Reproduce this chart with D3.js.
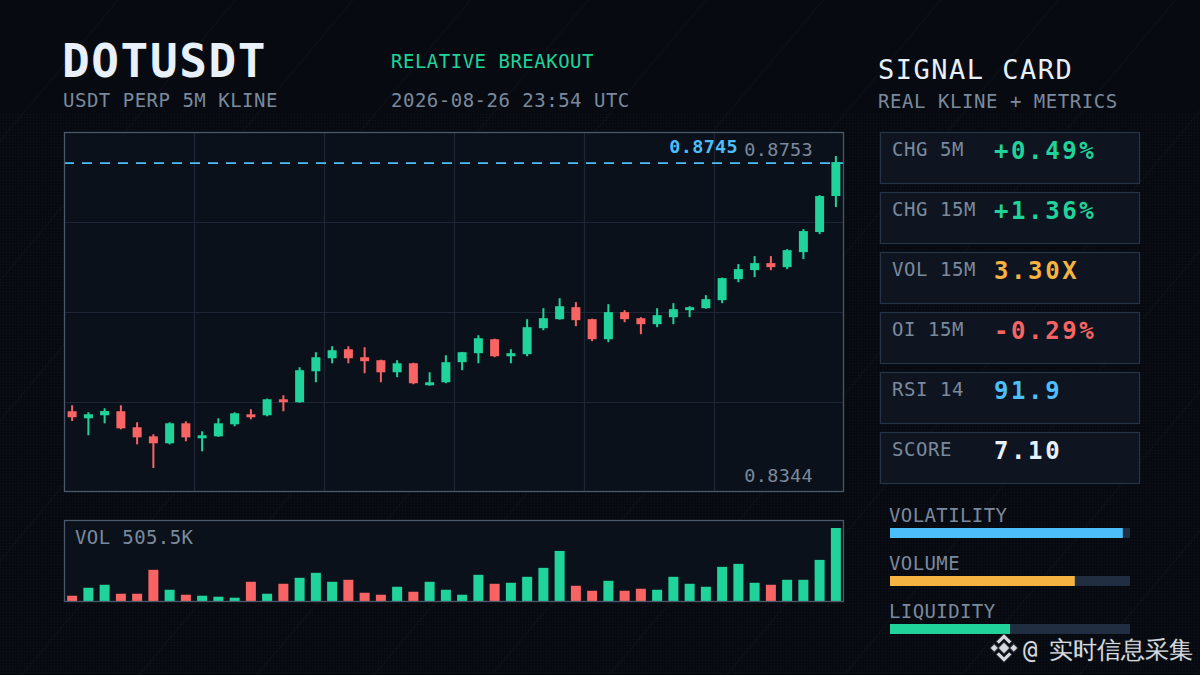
<!DOCTYPE html>
<html>
<head>
<meta charset="utf-8">
<script src="https://cdn.jsdelivr.net/npm/d3@7/dist/d3.min.js"></script>
<style>
html,body{margin:0;padding:0;background:#070b11;overflow:hidden;}
svg{display:block;}
text{font-family:"DejaVu Sans Mono",monospace;}
</style>
</head>
<body>
<svg id="chart" width="1200" height="675"></svg>
<script>
// ---------------- DATA ----------------
const symbol = "DOTUSDT";
const subtitle = "USDT PERP 5M KLINE";
const signalTag = "RELATIVE BREAKOUT";
const timestamp = "2026-08-26 23:54 UTC";

const candleOpen = [0.84184,0.84092,0.84131,0.84184,0.83974,0.83855,0.83764,0.84026,0.83829,0.83855,0.84013,0.84144,0.84131,0.84341,0.84302,0.84708,0.84879,0.84997,0.84892,0.84853,0.84695,0.84813,0.84525,0.84564,0.84827,0.84945,0.85128,0.84905,0.84932,0.85273,0.85391,0.85548,0.85391,0.85128,0.85483,0.85404,0.85325,0.85417,0.85509,0.85535,0.85640,0.85916,0.86034,0.86126,0.86073,0.86270,0.86533,0.87005];
const candleHigh = [0.84262,0.84171,0.84223,0.84262,0.84039,0.83882,0.84039,0.84052,0.83921,0.84092,0.84171,0.84210,0.84350,0.84393,0.84761,0.84958,0.85036,0.85036,0.85023,0.84860,0.84853,0.84820,0.84695,0.84918,0.84962,0.85181,0.85135,0.84997,0.85391,0.85535,0.85666,0.85614,0.85398,0.85588,0.85509,0.85417,0.85535,0.85601,0.85561,0.85706,0.85936,0.86113,0.86218,0.86218,0.86309,0.86572,0.87018,0.87530];
const candleLow = [0.84056,0.83869,0.84026,0.83947,0.83750,0.83440,0.83750,0.83790,0.83659,0.83848,0.83987,0.84079,0.84118,0.84184,0.84295,0.84564,0.84813,0.84813,0.84682,0.84564,0.84630,0.84538,0.84518,0.84551,0.84722,0.84813,0.84892,0.84813,0.84905,0.85246,0.85384,0.85299,0.85102,0.85089,0.85351,0.85194,0.85286,0.85325,0.85417,0.85528,0.85601,0.85876,0.85942,0.86034,0.86047,0.86178,0.86506,0.86861];
const candleClose = [0.84105,0.84144,0.84187,0.83960,0.83842,0.83764,0.84026,0.83842,0.83869,0.84026,0.84157,0.84105,0.84341,0.84302,0.84722,0.84892,0.84984,0.84879,0.84840,0.84695,0.84813,0.84551,0.84564,0.84827,0.84958,0.85141,0.84905,0.84945,0.85286,0.85404,0.85561,0.85378,0.85128,0.85483,0.85391,0.85325,0.85443,0.85522,0.85548,0.85653,0.85929,0.86047,0.86126,0.86073,0.86296,0.86546,0.87005,0.87450];
const volumeK = [36.6,91.7,112.4,50.3,50.3,215.9,77.9,43.4,36.6,29.7,22.8,133.1,50.3,119.3,160.7,195.2,133.1,146.9,57.2,43.4,98.6,64.1,133.1,77.9,43.4,181.4,119.3,126.2,167.6,229.6,346.9,105.5,71.0,140.0,71.0,84.8,77.9,167.6,119.3,98.6,236.5,257.2,126.2,112.4,146.9,146.9,284.8,505.5];

const cardTitle = "SIGNAL CARD";
const cardSubtitle = "REAL KLINE + METRICS";
const metricLabels = ["CHG 5M","CHG 15M","VOL 15M","OI 15M","RSI 14","SCORE"];
const metricValues = ["+0.49%","+1.36%","3.30X","-0.29%","91.9","7.10"];
const meterLabels = ["VOLATILITY","VOLUME","LIQUIDITY"];
const meterValues = [0.97,0.77,0.50];
const watermarkAt = "@";
const watermarkName = "实时信息采集";

// ---------------- STYLE ----------------
const C = {
  bg:"#070b11", panel:"#0b111a", border:"#4b586b", grid:"#1d2635",
  green:"#20d39a", red:"#f86363", blue:"#4cbffa", orange:"#f5b342",
  white:"#e8f0fa", gray:"#7b899d", card:"#0e1520", cardBorder:"#263345", track:"#212e42"
};
const metricColors = [C.green,C.green,C.orange,C.red,C.blue,C.white];
const meterColors = [C.blue,C.orange,C.green];

const svg = d3.select("#chart");
const defs = svg.append("defs");

// background patterns
const diag = defs.append("pattern").attr("id","diag").attr("patternUnits","userSpaceOnUse")
  .attr("width",90).attr("height",90).attr("patternTransform","rotate(40)");
diag.append("line").attr("x1",0).attr("y1",0).attr("x2",0).attr("y2",90)
  .attr("stroke","#8aa0c0").attr("stroke-opacity",0.07).attr("stroke-width",1);
const dots = defs.append("pattern").attr("id","dots").attr("patternUnits","userSpaceOnUse")
  .attr("width",3).attr("height",3);
dots.append("rect").attr("width",1).attr("height",1).attr("fill","#ffffff").attr("fill-opacity",0.035);

svg.append("rect").attr("width",1200).attr("height",675).attr("fill",C.bg);
svg.append("rect").attr("y",113).attr("width",1200).attr("height",562).attr("fill","url(#dots)");
svg.append("rect").attr("width",1200).attr("height",675).attr("fill","url(#diag)");

// ---------------- HEADER ----------------
svg.append("text").attr("x",62).attr("y",77).text(symbol)
  .attr("fill",C.white).attr("font-size",46).attr("font-weight","bold").attr("letter-spacing",1.6);
svg.append("text").attr("x",63).attr("y",107).text(subtitle)
  .attr("fill",C.gray).attr("font-size",19).attr("letter-spacing",0.5);
svg.append("text").attr("x",391).attr("y",68).text(signalTag)
  .attr("fill",C.green).attr("font-size",19).attr("letter-spacing",0.5);
svg.append("text").attr("x",391).attr("y",107).text(timestamp)
  .attr("fill",C.gray).attr("font-size",19).attr("letter-spacing",0.5);

// ---------------- PRICE PANEL ----------------
const P = {x0:64, x1:844, y0:132, y1:492, pad:24};
const n = candleOpen.length;
const idx = d3.range(n);

const x = d3.scaleBand().domain(idx).range([P.x0,P.x1]).padding(0);
const cx = i => x(i) + x.bandwidth()/2;
const lo = d3.min(candleLow), hi = d3.max(candleHigh);
const y = d3.scaleLinear().domain([lo,hi]).range([P.y1-P.pad, P.y0+P.pad]);

svg.append("rect").attr("x",P.x0+0.5).attr("y",P.y0+0.5).attr("width",P.x1-P.x0-1).attr("height",P.y1-P.y0-1)
  .attr("fill",C.panel);

const gridG = svg.append("g");
const gx = d3.scaleLinear().domain([0,6]).range([P.x0,P.x1]);
const gy = d3.scaleLinear().domain([0,4]).range([P.y0,P.y1]);
gridG.selectAll("line.v").data(d3.range(1,6)).join("line")
  .attr("x1",d=>Math.round(gx(d))+0.5).attr("x2",d=>Math.round(gx(d))+0.5)
  .attr("y1",P.y0).attr("y2",P.y1).attr("stroke",C.grid).attr("stroke-width",1.2);
gridG.selectAll("line.h").data(d3.range(1,4)).join("line")
  .attr("y1",d=>Math.round(gy(d))+0.5).attr("y2",d=>Math.round(gy(d))+0.5)
  .attr("x1",P.x0).attr("x2",P.x1).attr("stroke",C.grid).attr("stroke-width",1.2);

const fmt4 = d3.format(".4f");
const lastClose = candleClose[n-1];

// last price dashed line
svg.append("line").attr("x1",P.x0).attr("x2",P.x1)
  .attr("y1",y(lastClose)+1).attr("y2",y(lastClose)+1)
  .attr("stroke",C.blue).attr("stroke-width",1.8).attr("stroke-dasharray","10,8");

// candles
const cg = svg.append("g");
const bodyW = 9, wickW = 2;
cg.selectAll("rect.wick").data(idx).join("rect")
  .attr("x",i=>cx(i)-wickW/2).attr("width",wickW)
  .attr("y",i=>y(candleHigh[i])).attr("height",i=>Math.max(1,y(candleLow[i])-y(candleHigh[i])))
  .attr("fill",i=>candleClose[i]>=candleOpen[i]?C.green:C.red);
cg.selectAll("rect.body").data(idx).join("rect")
  .attr("x",i=>cx(i)-bodyW/2).attr("width",bodyW)
  .attr("y",i=>y(Math.max(candleOpen[i],candleClose[i])))
  .attr("height",i=>Math.max(2.5,Math.abs(y(candleOpen[i])-y(candleClose[i]))))
  .attr("fill",i=>candleClose[i]>=candleOpen[i]?C.green:C.red);

// price labels
svg.append("text").attr("x",738).attr("y",153).attr("text-anchor","end").text(fmt4(lastClose))
  .attr("fill",C.blue).attr("font-size",18.5).attr("font-weight","bold").attr("letter-spacing",0.3);
svg.append("text").attr("x",813).attr("y",156).attr("text-anchor","end").text(fmt4(hi))
  .attr("fill",C.gray).attr("font-size",18.5).attr("letter-spacing",0.3);
svg.append("text").attr("x",813).attr("y",482).attr("text-anchor","end").text(fmt4(lo))
  .attr("fill",C.gray).attr("font-size",18.5).attr("letter-spacing",0.3);

svg.append("rect").attr("x",P.x0+0.5).attr("y",P.y0+0.5).attr("width",P.x1-P.x0-1).attr("height",P.y1-P.y0-1)
  .attr("fill","none").attr("stroke",C.border).attr("stroke-width",1.3);

// ---------------- VOLUME PANEL ----------------
const V = {x0:64, x1:844, y0:520, y1:602};
const vy = d3.scaleLinear().domain([0,d3.max(volumeK)]).range([601,528]);
svg.append("rect").attr("x",V.x0+0.5).attr("y",V.y0+0.5).attr("width",V.x1-V.x0-1).attr("height",V.y1-V.y0-1)
  .attr("fill",C.panel);
svg.append("g").selectAll("rect").data(idx).join("rect")
  .attr("x",i=>cx(i)-5).attr("width",10)
  .attr("y",i=>vy(volumeK[i])).attr("height",i=>vy(0)-vy(volumeK[i]))
  .attr("fill",i=>candleClose[i]>=candleOpen[i]?C.green:C.red);
svg.append("rect").attr("x",V.x0+0.5).attr("y",V.y0+0.5).attr("width",V.x1-V.x0-1).attr("height",V.y1-V.y0-1)
  .attr("fill","none").attr("stroke",C.border).attr("stroke-width",1.3);
svg.append("text").attr("x",75).attr("y",544).text("VOL " + d3.format(".1f")(volumeK[n-1]) + "K")
  .attr("fill",C.gray).attr("font-size",19).attr("letter-spacing",0.4);

// ---------------- SIGNAL CARD ----------------
svg.append("text").attr("x",878).attr("y",79).text(cardTitle)
  .attr("fill",C.white).attr("font-size",27).attr("letter-spacing",1.5);
svg.append("text").attr("x",878).attr("y",108).text(cardSubtitle)
  .attr("fill",C.gray).attr("font-size",19).attr("letter-spacing",0.55);

const cardY = d3.scaleBand().domain(d3.range(metricLabels.length)).range([132,492]).paddingInner(0);
const cards = svg.append("g").selectAll("g").data(d3.range(metricLabels.length)).join("g")
  .attr("transform",i=>`translate(880,${cardY(i)})`);
cards.append("rect").attr("x",0.5).attr("y",0.5).attr("width",259).attr("height",51)
  .attr("fill",C.card).attr("stroke",C.cardBorder).attr("stroke-width",1.2);
cards.append("text").attr("x",12).attr("y",24).text(i=>metricLabels[i])
  .attr("fill",C.gray).attr("font-size",19).attr("letter-spacing",0.55);
cards.append("text").attr("x",114).attr("y",27).text(i=>metricValues[i])
  .attr("fill",i=>metricColors[i]).attr("font-size",24).attr("font-weight","bold").attr("letter-spacing",2.6);

// meters
const mx = d3.scaleLinear().domain([0,1]).range([890,1130]);
const meters = svg.append("g").selectAll("g").data(d3.range(meterLabels.length)).join("g")
  .attr("transform",i=>`translate(0,${i*48})`);
meters.append("text").attr("x",889).attr("y",522).text(i=>meterLabels[i])
  .attr("fill",C.gray).attr("font-size",19).attr("letter-spacing",0.4);
meters.append("rect").attr("x",mx(0)).attr("y",528).attr("width",mx(1)-mx(0)).attr("height",10).attr("fill",C.track);
meters.append("rect").attr("x",mx(0)).attr("y",528).attr("width",i=>mx(meterValues[i])-mx(0)).attr("height",10)
  .attr("fill",i=>meterColors[i]);

// ---------------- WATERMARK ----------------
const wm = svg.append("g").attr("transform","translate(1004,648) scale(1.3)");
const wmFill = "#d6dade", wmShadow = "#2a2f36";
function diamond(g, cxp, cyp, r, fill, stroke){
  g.append("rect").attr("x",-r).attr("y",-r).attr("width",2*r).attr("height",2*r)
   .attr("transform",`translate(${cxp},${cyp}) rotate(45)`)
   .attr("fill",fill).attr("stroke",stroke).attr("stroke-width",0.8);
}
diamond(wm,0,0,3.2,wmFill,wmShadow);
diamond(wm,-7.5,0,2.3,wmFill,wmShadow);
diamond(wm,7.5,0,2.3,wmFill,wmShadow);
wm.append("path").attr("d","M0,-11 L6,-5 L4,-3 L0,-7 L-4,-3 L-6,-5 Z").attr("fill",wmFill).attr("stroke",wmShadow).attr("stroke-width",0.7);
wm.append("path").attr("d","M0,11 L6,5 L4,3 L0,7 L-4,3 L-6,5 Z").attr("fill",wmFill).attr("stroke",wmShadow).attr("stroke-width",0.7);
const wmText = {"font-family":"'Noto Sans CJK SC',sans-serif", fill:wmFill, stroke:wmShadow, "stroke-width":0.8, "paint-order":"stroke"};
const t1 = svg.append("text").attr("x",1023).attr("y",658).attr("font-size",24).text(watermarkAt);
const t2 = svg.append("text").attr("x",1049).attr("y",658).attr("font-size",23.5).text(watermarkName);
[t1,t2].forEach(t=>Object.entries(wmText).forEach(([k,v])=>t.attr(k,v)));
</script>
</body>
</html>
